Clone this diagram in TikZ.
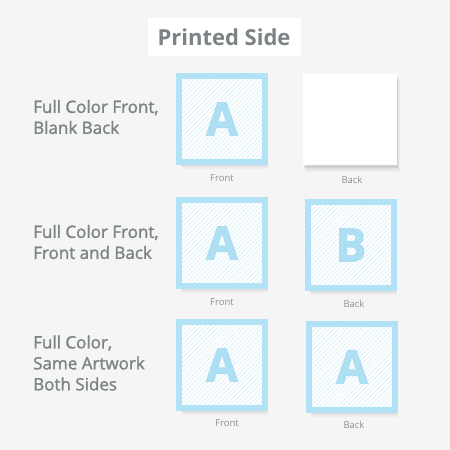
\documentclass[tikz,border=0pt]{standalone}
\usepackage{fontspec}
\setmainfont{Open Sans}
\newfontfamily\semifont[FakeBold=1.4]{Open Sans}
\newfontfamily\heavyfont[FakeBold=2]{Open Sans}
\usepackage{xcolor}
\usetikzlibrary{shadows,patterns.meta}

\definecolor{bggray}{HTML}{F5F5F5}
\definecolor{txtgray}{HTML}{7B8385}
\definecolor{lblgray}{HTML}{8A9092}
\definecolor{cardblue}{HTML}{B2E2F5}
\definecolor{letterblue}{HTML}{A9DDF2}
\definecolor{hatchblue}{HTML}{CDEBF7}

\tikzset{
  cardshadow/.style={
    drop shadow={shadow xshift=1pt, shadow yshift=-3pt, opacity=.07, fill=black},
    drop shadow={shadow xshift=2pt, shadow yshift=-5pt, opacity=.05, fill=black},
    drop shadow={shadow xshift=3pt, shadow yshift=-7pt, opacity=.03, fill=black}},
  card/.style={cardshadow, preaction={fill=white}, draw=cardblue, line width=6pt,
    minimum size=86pt, inner sep=0pt,
    pattern={Lines[angle=45, distance=3.2pt, line width=.5pt]}, pattern color=hatchblue,
    text=letterblue, text opacity=.92, font=\fontsize{46}{46}\heavyfont\bfseries},
  blankcard/.style={cardshadow, fill=white, minimum width=94pt, minimum height=91pt},
  sidelabel/.style={text=lblgray, font=\fontsize{9.5}{9.5}\selectfont},
  rowlabel/.style={anchor=west, align=left, text=txtgray, inner sep=0pt,
    font=\fontsize{17}{21}\semifont}
}

\begin{document}
\begin{tikzpicture}[x=1pt, y=-1pt]
%% frame
\fill[bggray] (0,0) rectangle (450,450);
\node[fill=white, minimum width=153pt, minimum height=38pt, text=txtgray,
  font=\fontsize{22}{22}\selectfont\bfseries] (title) at (224,37) {Printed Side};
%% row 1
\node[rowlabel] (lbl1) at (33,117) {Full Color Front,\\Blank Back};
\node[card] (front1) at (222,119) {A};
\node[blankcard] (back1) at (350,119.5) {};
\node[sidelabel] (ftxt1) at (222,178) {Front};
\node[sidelabel] (btxt1) at (352,180) {Back};
%% row 2
\node[rowlabel] (lbl2) at (33,242) {Full Color Front,\\Front and Back};
\node[card] (front2) at (222,243) {A};
\node[card] (back2) at (351,245) {B};
\node[sidelabel] (ftxt2) at (222,302) {Front};
\node[sidelabel] (btxt2) at (354,304) {Back};
%% row 3
\node[rowlabel] (lbl3) at (33,363) {Full Color,\\Same Artwork\\Both Sides};
\node[card] (front3) at (222,365) {A};
\node[card] (back3) at (352,367) {A};
\node[sidelabel] (ftxt3) at (227,423) {Front};
\node[sidelabel] (btxt3) at (354,425) {Back};
\end{tikzpicture}
\end{document}
